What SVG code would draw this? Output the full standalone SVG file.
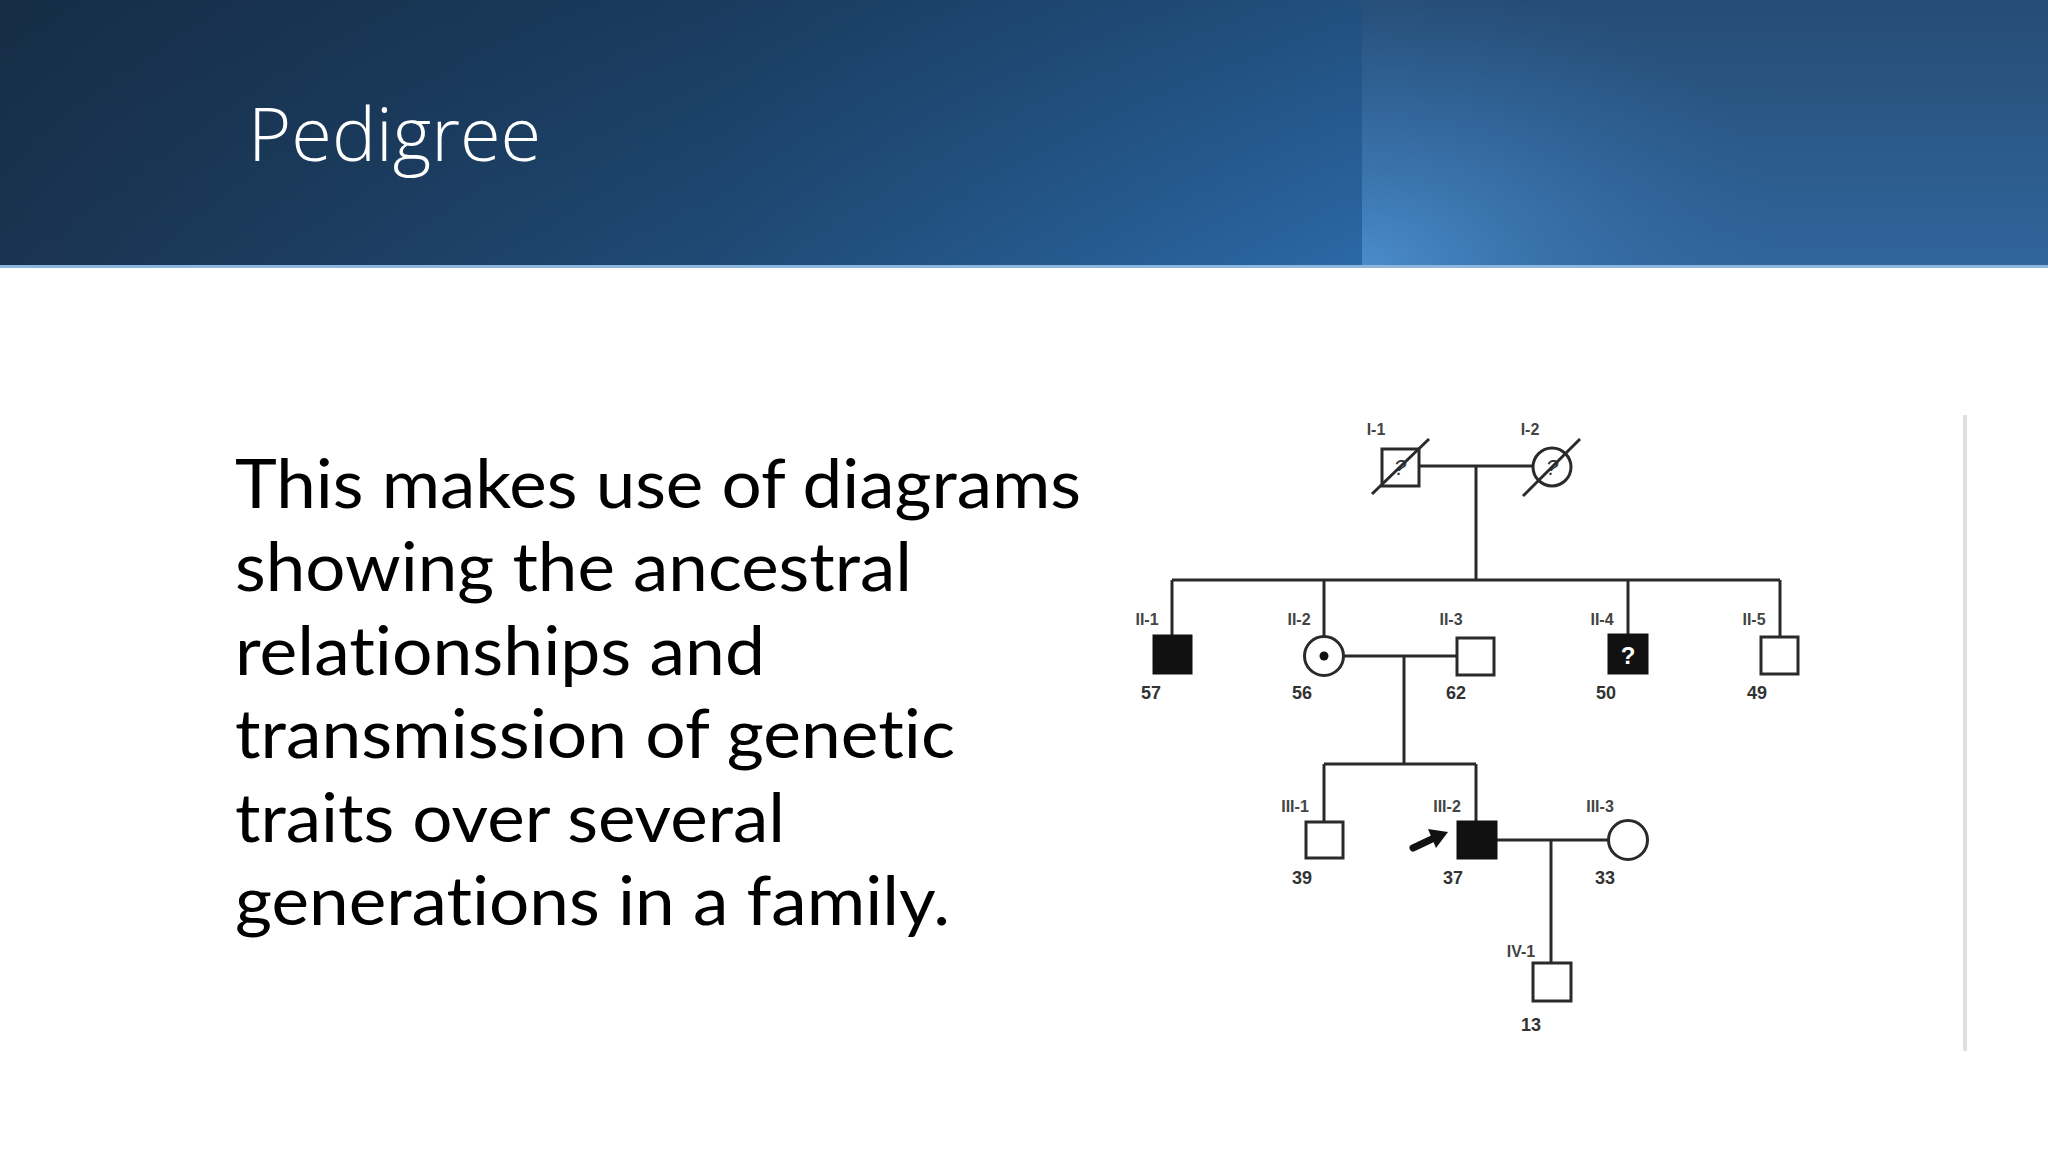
<svg xmlns="http://www.w3.org/2000/svg" width="2048" height="1152" viewBox="0 0 2048 1152">
<defs>
<linearGradient id="hdr" x1="0" y1="0" x2="1" y2="0">
<stop offset="0" stop-color="#1a3350"/>
<stop offset="0.35" stop-color="#1f4a75"/>
<stop offset="0.66" stop-color="#2b68a5"/>
<stop offset="1" stop-color="#2b68a5"/>
</linearGradient>
<linearGradient id="hdrV" x1="0" y1="0" x2="0" y2="1">
<stop offset="0" stop-color="#0e1f33" stop-opacity="0.35"/>
<stop offset="1" stop-color="#0e1f33" stop-opacity="0"/>
</linearGradient>
<linearGradient id="panelBase" x1="0" y1="0" x2="0" y2="1">
<stop offset="0" stop-color="#264c75"/>
<stop offset="1" stop-color="#30659b"/>
</linearGradient>
<radialGradient id="panel" cx="1362" cy="266" r="440" gradientUnits="userSpaceOnUse" gradientTransform="translate(1362 266) scale(1 0.65) translate(-1362 -266)">
<stop offset="0" stop-color="#4a8ccb" stop-opacity="1"/>
<stop offset="0.5" stop-color="#3a74ad" stop-opacity="0.6"/>
<stop offset="1" stop-color="#30659b" stop-opacity="0"/>
</radialGradient>
<style>
.ln{stroke:#2a2a2a;stroke-width:3;fill:none}
.op{stroke:#2a2a2a;stroke-width:3;fill:#fff}
.fl{stroke:#111;stroke-width:3;fill:#111}
.lab{font-family:"Liberation Sans",Arial,sans-serif;font-weight:bold;font-size:16px;fill:#444;text-anchor:middle}
.num{font-family:"Liberation Sans",Arial,sans-serif;font-weight:bold;font-size:18px;fill:#333;text-anchor:middle}
.body{font-family:Lato,"Open Sans","Liberation Sans",sans-serif;font-size:68px;fill:#000;font-variant-ligatures:none}
</style>
</defs>
<rect width="2048" height="1152" fill="#fff"/>
<g id="header">
<rect x="0" y="0" width="2048" height="266" fill="url(#hdr)"/>
<rect x="0" y="0" width="1362" height="266" fill="url(#hdrV)"/>
<rect x="1362" y="0" width="686" height="266" fill="url(#panelBase)"/>
<rect x="1362" y="0" width="686" height="266" fill="url(#panel)"/>
<rect x="0" y="265" width="2048" height="3" fill="#8db6de"/>
<text x="248" y="161" font-family="'Open Sans','Liberation Sans',sans-serif" font-weight="300" font-size="74" fill="#fff">Pedigree</text>
</g>
<g id="body-text" class="body">
<text x="235" y="508" textLength="846" lengthAdjust="spacingAndGlyphs">This makes use of diagrams</text>
<text x="235" y="591" textLength="677" lengthAdjust="spacingAndGlyphs">showing the ancestral</text>
<text x="235" y="675" textLength="530" lengthAdjust="spacingAndGlyphs">relationships and</text>
<text x="235" y="758" textLength="720" lengthAdjust="spacingAndGlyphs">transmission of genetic</text>
<text x="235" y="842" textLength="550" lengthAdjust="spacingAndGlyphs">traits over several</text>
<text x="235" y="925" textLength="715" lengthAdjust="spacingAndGlyphs">generations in a family.</text>
</g>
<rect id="divider" x="1963" y="415" width="4" height="636" fill="#e0e0e0"/>
<g id="connectors">
<line class="ln" x1="1419" y1="466" x2="1533" y2="466"/>
<line class="ln" x1="1476" y1="466" x2="1476" y2="580"/>
<line class="ln" x1="1172" y1="580" x2="1780" y2="580"/>
<line class="ln" x1="1172" y1="580" x2="1172" y2="636"/>
<line class="ln" x1="1324" y1="580" x2="1324" y2="637"/>
<line class="ln" x1="1628" y1="580" x2="1628" y2="635"/>
<line class="ln" x1="1780" y1="580" x2="1780" y2="637"/>
<line class="ln" x1="1344" y1="656" x2="1457" y2="656"/>
<line class="ln" x1="1404" y1="656" x2="1404" y2="764"/>
<line class="ln" x1="1324" y1="764" x2="1476" y2="764"/>
<line class="ln" x1="1324" y1="764" x2="1324" y2="822"/>
<line class="ln" x1="1476" y1="764" x2="1476" y2="822"/>
<line class="ln" x1="1496" y1="840" x2="1608" y2="840"/>
<line class="ln" x1="1551" y1="840" x2="1551" y2="963"/>
</g>
<g id="I-1">
<rect class="op" x="1382" y="449" width="37" height="37"/>
<text x="1400" y="475" font-family="'Liberation Sans',sans-serif" font-style="italic" font-size="22" fill="#333" text-anchor="middle">?</text>
<line class="ln" stroke-width="2" x1="1372" y1="494" x2="1429" y2="439"/>
<text class="lab" x="1376" y="435">I-1</text>
</g>
<g id="I-2">
<circle class="op" cx="1552" cy="467" r="19"/>
<text x="1552" y="475" font-family="'Liberation Sans',sans-serif" font-style="italic" font-size="22" fill="#333" text-anchor="middle">?</text>
<line class="ln" stroke-width="2" x1="1523" y1="496" x2="1580" y2="439"/>
<text class="lab" x="1530" y="435">I-2</text>
</g>
<g id="II-1">
<rect class="fl" x="1154" y="636" width="37" height="37"/>
<text class="lab" x="1147" y="625">II-1</text>
<text class="num" x="1151" y="699">57</text>
</g>
<g id="II-2">
<circle class="op" cx="1324" cy="656" r="19.5"/>
<circle cx="1324" cy="656" r="4.5" fill="#111"/>
<text class="lab" x="1299" y="625">II-2</text>
<text class="num" x="1302" y="699">56</text>
</g>
<g id="II-3">
<rect class="op" x="1457" y="638" width="37" height="37"/>
<text class="lab" x="1451" y="625">II-3</text>
<text class="num" x="1456" y="699">62</text>
</g>
<g id="II-4">
<rect class="fl" x="1609" y="635" width="38" height="38"/>
<text x="1628" y="664" font-family="'Liberation Sans',sans-serif" font-weight="bold" font-size="24" fill="#fff" text-anchor="middle">?</text>
<text class="lab" x="1602" y="625">II-4</text>
<text class="num" x="1606" y="699">50</text>
</g>
<g id="II-5">
<rect class="op" x="1761" y="637" width="37" height="37"/>
<text class="lab" x="1754" y="625">II-5</text>
<text class="num" x="1757" y="699">49</text>
</g>
<g id="III-1">
<rect class="op" x="1306" y="822" width="37" height="36"/>
<text class="lab" x="1295" y="812">III-1</text>
<text class="num" x="1302" y="884">39</text>
</g>
<g id="III-2">
<rect class="fl" x="1458" y="822" width="38" height="36"/>
<text class="lab" x="1447" y="812">III-2</text>
<text class="num" x="1453" y="884">37</text>
<g id="proband-arrow">
<line x1="1413" y1="848" x2="1432" y2="839" stroke="#111" stroke-width="7" stroke-linecap="round"/>
<polygon points="1448,832 1428,829 1436,848" fill="#111"/>
</g>
</g>
<g id="III-3">
<circle class="op" cx="1628" cy="840" r="19.5"/>
<text class="lab" x="1600" y="812">III-3</text>
<text class="num" x="1605" y="884">33</text>
</g>
<g id="IV-1">
<rect class="op" x="1533" y="963" width="38" height="38"/>
<text class="lab" x="1521" y="957">IV-1</text>
<text class="num" x="1531" y="1031">13</text>
</g>
</svg>
